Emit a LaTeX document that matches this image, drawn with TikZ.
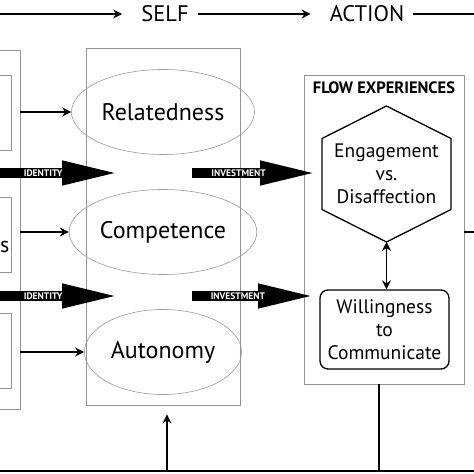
\documentclass[tikz,border=0pt]{standalone}
\usepackage{fontspec}
\setmainfont{PT Sans}
\usepackage{tikz}
\usetikzlibrary{positioning,shapes,arrows,arrows.meta,calc}

\begin{document}
\begin{tikzpicture}[
    x=1pt, y=1pt,
    box/.style={draw=gray!85, line width=0.8pt, inner sep=0pt},
    need/.style={draw=gray!80, ellipse, line width=0.6pt, minimum width=148pt, minimum height=85pt, font=\fontsize{24}{28}\selectfont},
    arrow/.style={->, >={Stealth[length=9pt, width=9pt]}, line width=1.6pt},
    headarrow/.style={arrow, line width=1.3pt, shorten >=10pt},
    fat/.style={line width=10pt, -{Triangle[length=58pt, width=22pt]}},
    fatlabel/.style={text=white, font=\bfseries\fontsize{9.5}{10}\selectfont, pos=.37},
    head/.style={font=\fontsize{22.5}{26}\selectfont, inner xsep=9pt}
]
    \useasboundingbox (0,0) rectangle (474,474);

    \node[head] (self) at (165,460) {SELF};
    \node[head] (action) at (367,460) {ACTION};
    \coordinate (hstart) at (0,460);
    \coordinate (hend) at (476,460);
    \draw[headarrow] (hstart) -- (self);
    \draw[headarrow] (self) -- (action);
    \draw[line width=1.3pt] (action) -- (hend);

    \node[box, minimum width=23pt, minimum height=359pt] (outer) at (8.5,244.5) {};
    \node[box, minimum width=15pt, minimum height=75pt] (src1) at (3.5,361.5) {};
    \node[box, minimum width=15pt, minimum height=75pt] (src2) at (3.5,239.5) {};
    \node[box, minimum width=15pt, minimum height=75pt] (src3) at (3.5,123.5) {};
    \node[anchor=base west, font=\fontsize{22}{26}\selectfont, inner sep=0pt] (src2text) at (0,221) {s};

    \node[box, minimum width=154pt, minimum height=357pt] (selfbox) at (163,247.5) {};
    \node[need] (rel) at (163,362) {Relatedness};
    \node[need] (comp) at (163,242) {Competence};
    \node[need] (auto) at (163,122) {Autonomy};

    \draw[arrow] (outer.east |- rel) -- (rel);
    \draw[arrow] (outer.east |- comp) -- (comp);
    \draw[arrow] (outer.east |- auto) -- (auto);

    \node[box, minimum width=160pt, minimum height=309pt] (flowbox) at (384,244.5) {};
    \node[font=\bfseries\fontsize{16.5}{18}\selectfont] (flowtitle) at (384,386) {FLOW EXPERIENCES};
    \node[align=center, font=\fontsize{19.5}{23}\selectfont] (engage) at (386.5,300) {Engagement\\vs.\\Disaffection};
    \draw[line width=1.3pt, line join=round] ($(engage)+(0,68)$) -- ++(-64.5,-32.5) -- ++(0,-71) -- ++(64.5,-32.5) -- ++(64.5,32.5) -- ++(0,71) -- cycle;
    \coordinate (engagebottom) at ($(engage)+(0,-68)$);
    \node[draw, rounded corners=8pt, line width=1.3pt, minimum width=129pt, minimum height=79pt, align=center, font=\fontsize{19.5}{23}\selectfont] (wtc) at (384.5,144.5) {Willingness\\to\\Communicate};
    \draw[arrow, <->] (engagebottom) -- (engagebottom |- wtc.north);

    \coordinate (id1s) at (-2,301);
    \coordinate (id1e) at (120,301);
    \coordinate (id2s) at (-2,178);
    \coordinate (id2e) at (120,178);
    \coordinate (inv1s) at (192,301);
    \coordinate (inv1e) at (318,301);
    \coordinate (inv2s) at (192,178);
    \coordinate (inv2e) at (316,178);
    \draw[fat] (id1s) -- node[fatlabel] {IDENTITY} (id1e);
    \draw[fat] (id2s) -- node[fatlabel] {IDENTITY} (id2e);
    \draw[fat] (inv1s) -- node[fatlabel] {INVESTMENT} (inv1e);
    \draw[fat] (inv2s) -- node[fatlabel] {INVESTMENT} (inv2e);

    \coordinate (rout) at (476,242);
    \draw[line width=1.3pt] (flowbox.east |- rout) -- (rout);
    \coordinate (bl) at (-2,3);
    \coordinate (br) at (476,3);
    \draw[line width=2.5pt] (bl) -- (br);
    \coordinate (fdrop) at (379,3);
    \draw[line width=1.3pt] (fdrop |- flowbox.south) -- (fdrop);
    \coordinate (fback) at (167,3);
    \draw[arrow, shorten >=9pt] (fback) -- (fback |- selfbox.south);
\end{tikzpicture}
\end{document}
